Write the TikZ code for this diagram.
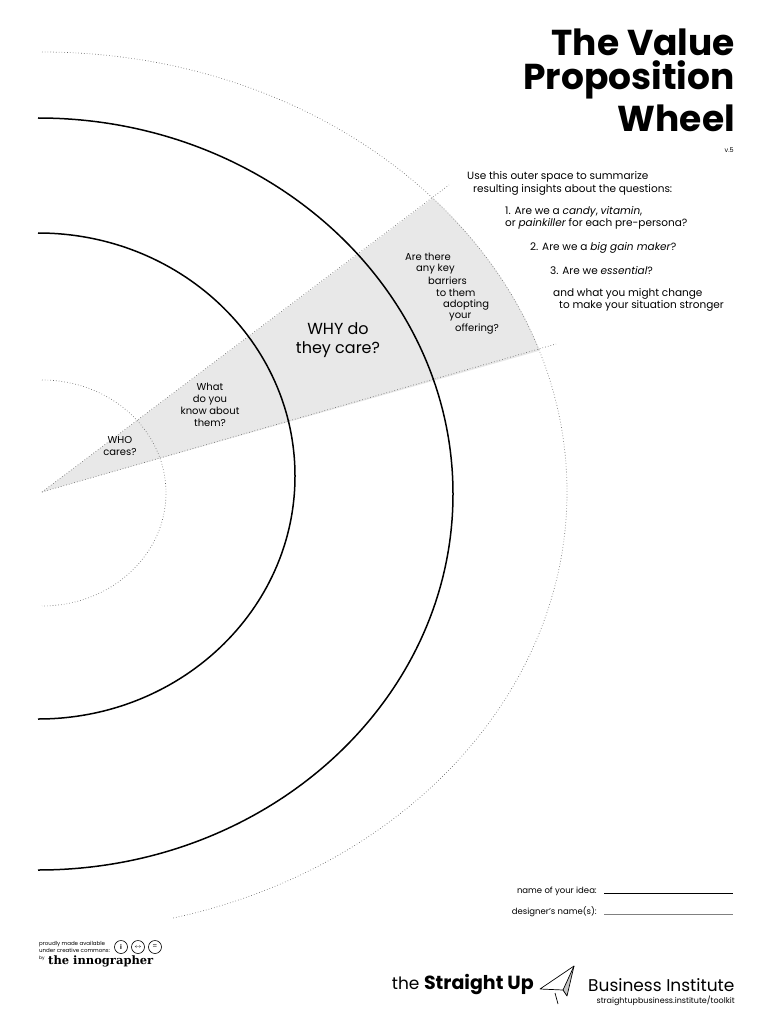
\documentclass[tikz,border=0pt]{standalone}
\usepackage{fontspec}
\setmainfont{Poppins}
\newfontfamily\slabfont{DejaVu Serif}
\begin{document}
\begin{tikzpicture}[x=1pt,y=-1pt,
  dotln/.style={dash pattern=on 0.6pt off 2.2pt,line width=0.7pt,gray!80!black},
  solidln/.style={line width=1.5pt,black},
  lbl/.style={font=\fontsize{10}{12}\selectfont,align=center,inner sep=0},
  rtxt/.style={font=\fontsize{10.5}{12}\selectfont,anchor=west,inner sep=0},
  btxt/.style={font=\fontsize{10}{12}\selectfont,anchor=west,inner sep=0},
  ttl/.style={font=\fontsize{36}{38}\selectfont\bfseries,anchor=east,inner sep=0}]
\useasboundingbox (0,0) rectangle (768,1024);
\coordinate (C) at (42,492);
\coordinate (U) at (433,198);
\coordinate (L) at (539,349);
\coordinate (Ue) at (449,185);
\coordinate (Le) at (556,344);
% wedge fill
\fill[gray!18] (C) -- (U) arc[start angle=-42,end angle=-18.8,x radius=525,y radius=440] -- cycle;
\draw[dotln] (C) -- (Ue);
\draw[dotln] (C) -- (Le);
% rings
\draw[dotln] (42,380) arc[start angle=-90,end angle=90,x radius=124,y radius=113];
\draw[solidln] (38,233) arc[start angle=-90,end angle=90,x radius=257,y radius=243];
\draw[solidln] (38,118) arc[start angle=-90,end angle=90,x radius=415,y radius=376];
\draw[dotln] (42,52) arc[start angle=-90,end angle=75.7,x radius=525,y radius=440];
% wedge labels
\node[lbl] (who) at (120,446) {WHO\\cares?};
\node[lbl] (what) at (210,405) {What\\do you\\know about\\them?};
\node[lbl,font=\fontsize{16}{19}\selectfont] (why) at (338,340) {WHY do\\they care?};
\foreach \t/\x/\y [count=\i] in {Are there/405/257,any key/416/269,barriers/428/281,to them/436/293,adopting/443/305,your/449/317,offering?/455/329}
  \node[btxt] (b\i) at (\x,\y) {\t};
% title
\node[ttl] (t1) at (735,42) {The Value};
\node[ttl] (t2) at (735,80) {Proposition};
\node[ttl] (t3) at (735,118) {Wheel};
\node[font=\fontsize{6.5}{7}\selectfont,anchor=east,inner sep=0] (ver) at (734,150) {v.5};
% instructions
\node[rtxt] (i1) at (467,177) {Use this outer space to summarize};
\node[rtxt] (i2) at (473,190) {resulting insights about the questions:};
\node[rtxt] (i3) at (505,212) {1. Are we a \textit{candy}, \textit{vitamin},};
\node[rtxt] (i4) at (505,224) {or \textit{painkiller} for each pre-persona?};
\node[rtxt] (i5) at (530,248) {2. Are we a \textit{big gain maker}?};
\node[rtxt] (i6) at (550,271) {3. Are we \textit{essential}?};
\node[rtxt] (i7) at (553,294) {and what you might change};
\node[rtxt] (i8) at (559,306) {to make your situation stronger};
% form
\node[font=\fontsize{8.5}{10}\selectfont,anchor=east,inner sep=0] (f1) at (597,891) {name of your idea:};
\node[font=\fontsize{8.5}{10}\selectfont,anchor=east,inner sep=0] (f2) at (597,912) {designer's name(s):};
\coordinate (l1a) at (604,893); \coordinate (l1b) at (733,893);
\coordinate (l2a) at (604,914); \coordinate (l2b) at (733,914);
\draw[line width=0.6pt] (l1a) -- (l1b);
\draw[line width=0.6pt,gray] (l2a) -- (l2b);
% creative commons
\node[font=\fontsize{5.5}{5.5}\selectfont,align=left,anchor=west,inner sep=0] (cc) at (39,947) {proudly made available\\under creative commons:};
\foreach \x [count=\i] in {121,138,155} \draw[line width=0.6pt] (\x,947) circle (6.5);
\node[inner sep=0] (p) at (121,947) {\fontsize{6}{6}\selectfont\textbf{i}};
\node[inner sep=0] (s) at (138,947) {\fontsize{6}{6}\selectfont$\leftrightarrow$};
\node[inner sep=0] (e) at (155,947) {\fontsize{7}{7}\selectfont=};
\node[font=\fontsize{4.5}{4.5}\selectfont,anchor=west,inner sep=0] (by) at (39,958) {by};
\node[font=\fontsize{11.5}{12}\selectfont\slabfont\bfseries,anchor=west,inner sep=0] (inno) at (48,961) {the innographer};
% logo
\node[font=\fontsize{19}{21}\selectfont,anchor=east,inner sep=0] (su) at (534,984) {\fontsize{17}{19}\selectfont the \fontsize{19}{21}\selectfont\textbf{Straight Up}};
\coordinate (pt) at (574,966); \coordinate (pl) at (540,989); \coordinate (pm) at (563,990); \coordinate (pb) at (558,1004);
\fill[gray!45] (pt) -- (pm) -- (567,996) -- cycle;
\draw[line width=0.7pt,line join=round] (pl) -- (pt) -- (567,996) -- (pm) -- cycle;
\draw[line width=0.7pt] (pm) -- (pt);
\draw[line width=0.7pt] (555,993) -- (pb);
\node[font=\fontsize{17}{19}\selectfont,anchor=west,inner sep=0] (bi) at (588,985) {Business Institute};
\node[font=\fontsize{8}{9}\selectfont,anchor=east,inner sep=0] (url) at (735,1001) {straightupbusiness.institute/toolkit};
\end{tikzpicture}
\end{document}
